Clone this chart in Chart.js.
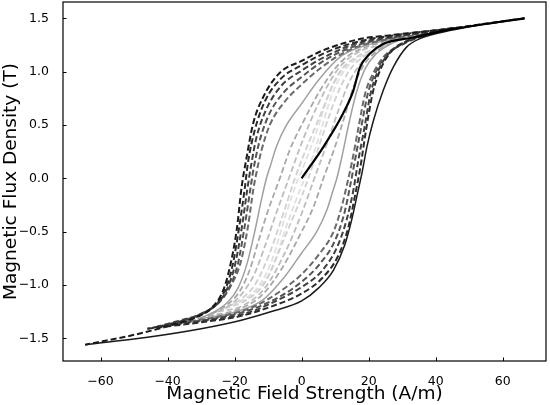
<!DOCTYPE html>
<html>
<head>
<meta charset="utf-8">
<script src="https://cdn.jsdelivr.net/npm/chart.js@4/dist/chart.umd.min.js"></script>
<style>
  body { margin: 0; background: #fff; }
  canvas { display: block; }
</style>
</head>
<body>
<canvas id="loops" width="550" height="405"></canvas>
<script>
// tick labels
const xTicks = [-60, -40, -20, 0, 20, 40, 60];
const yTicks = [-1.5, -1.0, -0.5, 0.0, 0.5, 1.0, 1.5];

// initial magnetisation curve [H, B]
const initialCurve = [[0, 0], [6.4, 0.29], [12.4, 0.61], [15.4, 0.82], [17.4, 1.04], [20.4, 1.17],
  [24.3, 1.26], [33.3, 1.32], [43.3, 1.39], [66.5, 1.5]];

// outer loop (largest amplitude)
const loopADown = [[66.5, 1.5], [43, 1.4], [26, 1.34], [18, 1.31], [6.4, 1.2], [0, 1.1], [-6.5, 0.99],
  [-11.5, 0.76], [-14.5, 0.51], [-16.4, 0.2], [-17.9, -0.08], [-19.4, -0.49], [-21.4, -0.83],
  [-23.4, -1.05], [-26.4, -1.2], [-31.3, -1.3], [-40.3, -1.39], [-50.3, -1.47], [-64.6, -1.56]];
const loopAUp = [[-64.6, -1.56], [-46, -1.49], [-30, -1.41], [-18, -1.33], [-8, -1.24], [0, -1.15],
  [5, -1.03], [9.5, -0.86], [12.8, -0.63], [15, -0.38], [16.6, -0.15], [18, 0.05], [19.5, 0.3],
  [21.4, 0.54], [24.3, 0.82], [27.3, 1.04], [31.3, 1.23], [35.3, 1.31], [45, 1.39], [66.5, 1.5]];

// dark minor loops
const loopBDown = [[46, 1.41], [30, 1.35], [18, 1.29], [8, 1.19], [0, 1.06], [-6, 0.94], [-11, 0.72],
  [-14, 0.45], [-16, 0.15], [-17, -0.1], [-18.6, -0.45], [-20.5, -0.8], [-22.5, -1.02], [-25.5, -1.18],
  [-30, -1.28], [-38, -1.36], [-46, -1.41]];
const loopBUp = [[-46, -1.41], [-30, -1.35], [-18, -1.29], [-8, -1.19], [0, -1.08], [6, -0.94], [11, -0.72],
  [14, -0.45], [16, -0.15], [17.5, 0.1], [19.2, 0.45], [21.2, 0.8], [23.5, 1.02], [26.5, 1.18],
  [31, 1.28], [38, 1.36], [46, 1.41]];

const loopCDown = [[43, 1.39], [28, 1.33], [16, 1.26], [7, 1.14], [0, 1.01], [-6, 0.87], [-10.5, 0.65],
  [-13.5, 0.38], [-15.2, 0.1], [-16.2, -0.1], [-17.8, -0.45], [-19.8, -0.8], [-22, -1.02], [-25, -1.17],
  [-30, -1.27], [-37, -1.34], [-43, -1.39]];
const loopCUp = [[-43, -1.39], [-28, -1.33], [-16, -1.26], [-7, -1.14], [0, -1.02], [6, -0.87], [10.5, -0.65],
  [13.5, -0.38], [15.5, -0.1], [16.8, 0.15], [18.6, 0.45], [20.6, 0.8], [23, 1.02], [26, 1.17],
  [31, 1.27], [37, 1.34], [43, 1.39]];

const loopDDown = [[40, 1.37], [27, 1.32], [15, 1.23], [6, 1.09], [0, 0.95], [-5.5, 0.8], [-10, 0.58],
  [-12.8, 0.32], [-14.4, 0.08], [-15.3, -0.1], [-17, -0.45], [-19, -0.8], [-21.5, -1.02], [-24.5, -1.16],
  [-29, -1.26], [-35, -1.33], [-40, -1.37]];
const loopDUp = [[-40, -1.37], [-27, -1.32], [-15, -1.23], [-6, -1.1], [0, -0.97], [5.5, -0.8], [10, -0.58],
  [12.8, -0.32], [14.6, -0.05], [15.8, 0.15], [17.6, 0.45], [19.8, 0.8], [22.5, 1.02], [25.5, 1.16],
  [30, 1.26], [35, 1.33], [40, 1.37]];

const loopEDown = [[36, 1.35], [25, 1.3], [14, 1.2], [5.5, 1.03], [0, 0.88], [-5, 0.72], [-9.5, 0.5],
  [-12, 0.26], [-13.5, 0.05], [-14.4, -0.1], [-16, -0.45], [-18.3, -0.8], [-21, -1.0], [-24, -1.14],
  [-28, -1.24], [-32, -1.3], [-36, -1.35]];
const loopEUp = [[-36, -1.35], [-25, -1.3], [-14, -1.2], [-5.5, -1.04], [0, -0.9], [5, -0.72], [9.5, -0.5],
  [12, -0.26], [13.8, -0.02], [15, 0.15], [16.8, 0.45], [19, 0.8], [21.6, 1.0], [24.5, 1.14],
  [28.5, 1.24], [32, 1.3], [36, 1.35]];

// medium and light minor loops
const loopFDown = [[31, 1.32], [22, 1.27], [12, 1.15], [5, 0.92], [0, 0.7], [-4.5, 0.5], [-7.5, 0.3],
  [-9.3, 0.12], [-10.5, 0], [-12, -0.2], [-14, -0.5], [-16.3, -0.8], [-19, -1.03], [-22, -1.16],
  [-26, -1.25], [-31, -1.32]];
const loopFUp = [[-31, -1.32], [-22, -1.27], [-12, -1.15], [-5, -0.92], [0, -0.7], [4.5, -0.5], [7.5, -0.3],
  [9.3, -0.12], [10.5, 0], [12, 0.2], [14, 0.5], [16.3, 0.8], [19, 1.03], [22, 1.16],
  [26, 1.25], [31, 1.32]];

const loopGDown = [[28, 1.29], [20, 1.24], [12, 1.1], [6, 0.85], [0, 0.5], [-3.5, 0.27], [-6.5, 0],
  [-10, -0.3], [-13, -0.6], [-15.5, -0.86], [-18.5, -1.06], [-22, -1.18], [-28, -1.29]];
const loopGUp = [[-28, -1.29], [-20, -1.24], [-12, -1.1], [-6, -0.85], [0, -0.5], [3.5, -0.27], [6.5, 0],
  [10, 0.3], [13, 0.6], [15.5, 0.86], [18.5, 1.06], [22, 1.18], [28, 1.29]];

const loopHDown = [[25, 1.25], [18, 1.2], [11, 1.03], [5, 0.7], [0, 0.33], [-3.8, 0], [-7.5, -0.32],
  [-11, -0.64], [-14, -0.89], [-17.5, -1.07], [-21, -1.18], [-25, -1.25]];
const loopHUp = [[-25, -1.25], [-18, -1.2], [-11, -1.03], [-5, -0.7], [0, -0.33], [3.8, 0], [7.5, 0.32],
  [11, 0.64], [14, 0.89], [17.5, 1.07], [21, 1.18], [25, 1.25]];

const loopIDown = [[23, 1.22], [17, 1.15], [11, 0.98], [5, 0.55], [0, 0.17], [-2, 0], [-6, -0.38],
  [-10, -0.74], [-14, -1.0], [-18, -1.13], [-23, -1.22]];
const loopIUp = [[-23, -1.22], [-17, -1.15], [-11, -0.98], [-5, -0.55], [0, -0.17], [2, 0], [6, 0.38],
  [10, 0.74], [14, 1.0], [18, 1.13], [23, 1.22]];

const loopJDown = [[21, 1.19], [15, 1.1], [9, 0.85], [4, 0.4], [0, 0.07], [-1, 0], [-5, -0.37],
  [-9, -0.78], [-13, -1.02], [-17, -1.13], [-21, -1.19]];
const loopJUp = [[-21, -1.19], [-15, -1.1], [-9, -0.85], [-4, -0.4], [0, -0.07], [1, 0], [5, 0.37],
  [9, 0.78], [13, 1.02], [17, 1.13], [21, 1.19]];

const toXY = arr => arr.map(p => ({ x: p[0], y: p[1] }));
const minus = s => s.replace('-', '\u2212');

const dashed = (pts, color, w = 2) => ({
  data: toXY(pts), borderColor: color, borderWidth: w, borderDash: [6, 3],
  showLine: true, pointRadius: 0, cubicInterpolationMode: 'monotone', fill: false
});
const solid = (pts, color, w) => ({
  data: toXY(pts), borderColor: color, borderWidth: w,
  showLine: true, pointRadius: 0, cubicInterpolationMode: 'monotone', fill: false
});

// chart.js paints index 0 last, so the top-most line comes first
const datasets = [
  solid(initialCurve, '#000000', 2.2),
  dashed(loopADown, '#1a1a1a'), solid(loopAUp, '#1a1a1a', 1.5),
  dashed(loopBDown, '#2c2c2c'), dashed(loopBUp, '#2c2c2c'),
  dashed(loopCDown, '#404040'), dashed(loopCUp, '#404040'),
  dashed(loopDDown, '#555555'), dashed(loopDUp, '#555555'),
  dashed(loopEDown, '#6a6a6a'), dashed(loopEUp, '#6a6a6a'),
  solid(loopFDown, '#a0a0a0', 1.5), solid(loopFUp, '#a0a0a0', 1.5),
  dashed(loopGDown, '#a8a8a8', 1.8), dashed(loopGUp, '#a8a8a8', 1.8),
  dashed(loopHDown, '#bdbdbd', 1.8), dashed(loopHUp, '#bdbdbd', 1.8),
  dashed(loopIDown, '#d0d0d0', 1.8), dashed(loopIUp, '#d0d0d0', 1.8),
  dashed(loopJDown, '#e0e0e0', 1.8), dashed(loopJUp, '#e0e0e0', 1.8)
];

// box and inward ticks like the original
const frame = {
  id: 'frame',
  afterDatasetsDraw(chart) {
    const { ctx, chartArea: a, scales } = chart;
    ctx.save();
    ctx.strokeStyle = '#000';
    ctx.lineWidth = 1.2;
    ctx.strokeRect(a.left, a.top, a.right - a.left, a.bottom - a.top);
    ctx.lineWidth = 1;
    ctx.beginPath();
    xTicks.forEach(v => {
      const px = Math.round(scales.x.getPixelForValue(v)) + 0.5;
      ctx.moveTo(px, a.bottom); ctx.lineTo(px, a.bottom - 3.5);
    });
    yTicks.forEach(v => {
      const py = Math.round(scales.y.getPixelForValue(v)) + 0.5;
      ctx.moveTo(a.left, py); ctx.lineTo(a.left + 3.5, py);
    });
    ctx.stroke();
    ctx.restore();
  }
};

new Chart(document.getElementById('loops'), {
  type: 'scatter',
  data: { datasets },
  options: {
    responsive: false,
    animation: false,
    devicePixelRatio: 1,
    layout: { padding: { top: 2, right: 4, left: 0, bottom: 0 } },
    plugins: { legend: { display: false }, tooltip: { enabled: false } },
    scales: {
      x: {
        type: 'linear', min: -71.2, max: 72.9,
        afterBuildTicks: s => { s.ticks = xTicks.map(v => ({ value: v })); },
        afterFit: s => { s.height = 44; s.paddingLeft = 0; s.paddingRight = 0; },
        grid: { display: false }, border: { display: false },
        ticks: {
          color: '#000', padding: 5, maxRotation: 0,
          font: { family: 'DejaVu Sans', size: 12.5 },
          callback: v => minus(String(v))
        },
        title: {
          display: true, text: 'Magnetic Field Strength (A/m)', color: '#000',
          font: { family: 'DejaVu Sans', size: 18.5 }, padding: { top: 0, bottom: 0 }
        }
      },
      y: {
        type: 'linear', min: -1.713, max: 1.653,
        afterBuildTicks: s => { s.ticks = yTicks.map(v => ({ value: v })); },
        afterFit: s => { s.width = 63; s.paddingTop = 0; s.paddingBottom = 0; },
        grid: { display: false }, border: { display: false },
        ticks: {
          color: '#000', padding: 6,
          font: { family: 'DejaVu Sans', size: 12.5 },
          callback: v => minus(Number(v).toFixed(1))
        },
        title: {
          display: true, text: 'Magnetic Flux Density (T)', color: '#000',
          font: { family: 'DejaVu Sans', size: 18.5 }, padding: { top: 0, bottom: 0 }
        }
      }
    }
  },
  plugins: [frame]
});
</script>
</body>
</html>
